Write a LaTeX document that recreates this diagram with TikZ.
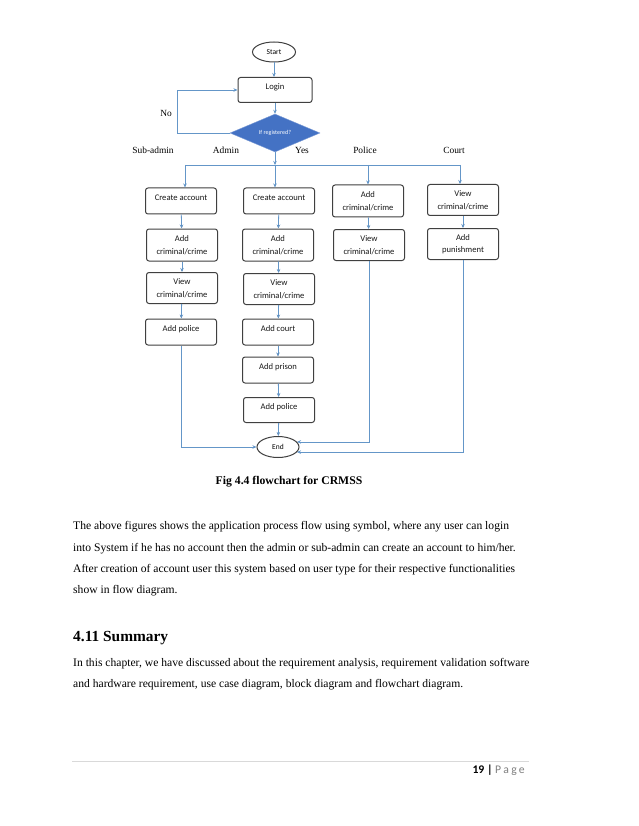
\documentclass[tikz,border=0pt]{standalone}
\usepackage{fontspec}
\setmainfont{Liberation Serif}
\newfontfamily\boxfont{Carlito}
\usetikzlibrary{positioning,calc,shapes.geometric,arrows.meta}

\definecolor{linkblue}{RGB}{100,150,200}
\definecolor{decblue}{RGB}{68,114,196}
\definecolor{boxgray}{RGB}{64,64,64}
\definecolor{rulegray}{RGB}{217,217,217}
\definecolor{pagegray}{RGB}{128,128,128}

\begin{document}
\begin{tikzpicture}[x=1pt,y=-1pt,
    box/.style={draw=boxgray,rounded corners=2.5pt,line width=1pt,minimum width=71pt,
      inner sep=2pt,align=center,font=\boxfont\fontsize{8.6}{12.5}\selectfont,text=black!90},
    proc/.style={box,minimum height=26pt,text depth=7pt},
    tall/.style={box,minimum height=32pt},
    term/.style={ellipse,draw=boxgray,line width=1pt,inner sep=0pt,font=\boxfont\fontsize{7.5}{9}\selectfont},
    decide/.style={diamond,fill=decblue,draw=decblue!70!white,inner sep=0pt,minimum width=90pt,minimum height=38pt,
      text=white,font=\boxfont\fontsize{6}{7}\selectfont},
    link/.style={draw=linkblue,line width=0.8pt,-{Stealth[length=4pt,width=3.5pt]}},
    bus/.style={draw=linkblue,line width=0.8pt},
    role/.style={font=\fontsize{9.4}{11}\selectfont},
    body/.style={anchor=base west,inner sep=0pt,font=\fontsize{11.6}{14}\selectfont}]
  \useasboundingbox[fill=white] (0,0) rectangle (638,826);

  \node[term,minimum width=43pt,minimum height=20pt] (st) at (274,52) {Start};
  \node[proc,minimum width=74pt,minimum height=25pt] (li) at (275,90) {Login};
  \node[decide] (rg) at (275,133) {If registered?};

  \node[proc] (s1) at (181,201) {Create account};
  \node[tall] (s2) at (182,245) {Add\\criminal/crime};
  \node[tall,minimum height=31pt] (s3) at (182,288) {View\\criminal/crime};
  \node[proc] (s4) at (181,332) {Add police};

  \node[proc] (a1) at (279,201) {Create account};
  \node[tall] (a2) at (278,245) {Add\\criminal/crime};
  \node[tall,minimum height=31pt] (a3) at (279,289) {View\\criminal/crime};
  \node[proc] (a4) at (278,332) {Add court};
  \node[proc] (a5) at (278,370) {Add prison};
  \node[proc,minimum height=25pt] (a6) at (279,410) {Add police};
  \node[term,minimum width=42pt,minimum height=21pt] (en) at (278,447) {End};

  \node[tall] (p1) at (368,201) {Add\\criminal/crime};
  \node[tall,minimum height=31pt] (p2) at (369,245) {View\\criminal/crime};

  \node[tall,minimum height=31pt] (c1) at (463,200) {View\\criminal/crime};
  \node[tall,minimum height=31pt] (c2) at (463,244) {Add\\punishment};

  \node[role] (no) at (166,113) {No};
  \node[role] (rs) at (153,150) {Sub-admin};
  \node[role] (ra) at (226,150) {Admin};
  \node[role] (ry) at (302,150) {Yes};
  \node[role] (rp) at (365,150) {Police};
  \node[role] (rc) at (454,150) {Court};

  \coordinate (nt) at (177,133);
  \coordinate (bl) at (185,165);
  \coordinate (bm) at (275,165);
  \coordinate (bp) at (368,165);
  \coordinate (br) at (460,165);

  \draw[link] (st.south) -- (st.south |- li.north);
  \draw[link] (li) -- (rg);
  \draw[link] (rg.west) -- (nt) |- (li.west);
  \draw[link] (rg) -- (bm);
  \draw[bus] (bl) -- (br);
  \draw[link] (bl) -- (bl |- s1.north);
  \draw[link] (bm) -- (bm |- a1.north);
  \draw[link] (bp) -- (bp |- p1.north);
  \draw[link] (br) -- (br |- c1.north);

  \path[link]
    (s1) edge (s2) (s2) edge (s3) (s3) edge (s4)
    (a1) edge (a2) (a2) edge (a3) (a3) edge (a4)
    (a4) edge (a5) (a5) edge (a6) (a6) edge (en)
    (p1) edge (p2)
    (c1) edge (c2);

  \draw[link] (s4.south) |- (en.west);
  \draw[link] (p2.south) |- (en.15);
  \draw[link] (c2.south) |- (en.-15);

  \node[font=\bfseries\fontsize{11.7}{14}\selectfont] (cap) at (289,482) {Fig 4.4 flowchart for CRMSS};

  \node[body] (l1) at (73,529) {The above figures shows the application process flow using symbol, where any user can login};
  \node[body] (l2) at (73,551) {into System if he has no account then the admin or sub-admin can create an account to him/her.};
  \node[body] (l3) at (73,572) {After creation of account user this system based on user type for their respective functionalities};
  \node[body] (l4) at (73,593) {show in flow diagram.};

  \node[body,font=\bfseries\fontsize{15.4}{18}\selectfont] (hd) at (73,641) {4.11 Summary};
  \node[body] (m1) at (73,666) {In this chapter, we have discussed about the requirement analysis, requirement validation software};
  \node[body] (m2) at (73,687) {and hardware requirement, use case diagram, block diagram and flowchart diagram.};

  \coordinate (fl) at (72,761);
  \coordinate (fr) at (529,761);
  \draw[rulegray,line width=0.6pt] (fl) -- (fr);
  \node[anchor=base east,inner sep=0pt,font=\boxfont\fontsize{11.7}{14}\selectfont] (pg) at (525,773)
    {\textbf{19 |} \textcolor{pagegray}{P\hspace{2.2pt}a\hspace{2.2pt}g\hspace{2.2pt}e}};
\end{tikzpicture}
\end{document}
